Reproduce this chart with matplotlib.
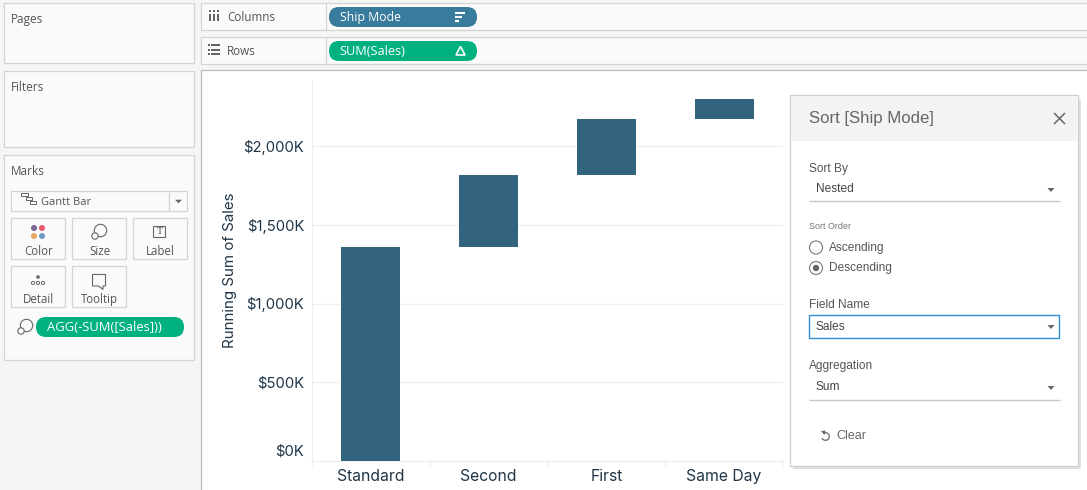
import numpy as np
import matplotlib
matplotlib.use("Agg")
import matplotlib.pyplot as plt
from matplotlib.patches import Rectangle, FancyBboxPatch, Circle, Polygon
from matplotlib.transforms import ScaledTranslation

# Sales by ship mode, in $K
ship_modes = ["Standard", "Second", "First", "Same Day"]
sales = [1358.2, 459.2, 351.4, 128.4]
y_ticks = [0, 500, 1000, 1500, 2000]
y_tick_labels = ["$0K", "$500K", "$1,000K", "$1,500K", "$2,000K"]

W, H = 1087, 490
BAR = "#33647e"
GREEN = "#00b180"
BLUE = "#387b9c"
BORDER = "#d4d4d4"
UI_TEXT = "#555555"
CHART_TEXT = "#1f3547"
CHART_FONT = "Inter"
UI_FONT = "Open Sans"
DLG_FONT = "Liberation Sans"

fig = plt.figure(figsize=(W / 100, H / 100), dpi=100, facecolor="#f5f5f5")

# pixel-space layer for the Tableau window around the chart
ui = fig.add_axes([0, 0, 1, 1], zorder=1)
ui.set_xlim(0, W)
ui.set_ylim(H, 0)
ui.axis("off")


def box(x0, y0, x1, y1, fc="#fafafa", ec=BORDER, lw=0.9, z=1):
    ui.add_patch(Rectangle((x0 - 0.5, y0 - 0.5), x1 - x0, y1 - y0, fc=fc, ec=ec, lw=lw, zorder=z))


def pill(x0, y0, x1, y1, color):
    r = (y1 - y0) / 2
    ui.add_patch(FancyBboxPatch((x0 + r, y0 + r), x1 - x0 - 2 * r, 0, boxstyle=f"round,pad={r}",
                                fc=color, ec="none", zorder=3))


def label(x, y, s, size=8.3, color=UI_TEXT, family=UI_FONT, ha="left", z=4):
    # va=center sits a touch high compared to the screenshot
    ui.text(x, y + 0.8, s, fontsize=size, color=color, family=family, ha=ha, va="center", zorder=z)


def line(xs, ys, color="#666666", lw=1.0, z=4):
    ui.plot(xs, ys, color=color, lw=lw, zorder=z, solid_capstyle="butt")


def size_icon(cx, cy):
    ui.add_patch(Circle((cx + 2, cy - 1.5), 6.2, fc="none", ec="#666666", lw=0.8, zorder=4))
    ui.add_patch(Circle((cx - 3.5, cy + 4), 3.2, fc="#fafafa", ec="#666666", lw=0.8, zorder=5))


def caret(cx, cy, w=4, h=3.5, color="#666666", z=6):
    ui.add_patch(Polygon([(cx - w, cy - h / 2), (cx + w, cy - h / 2), (cx, cy + h / 2)],
                         fc=color, ec="none", zorder=z))


# left side cards
box(4.5, 4, 194.5, 64)
box(4.5, 72, 194.5, 148)
box(4.5, 155.5, 194.5, 360.5)
label(11, 19, "Pages", 8.5)
label(11, 87, "Filters", 8.5)
label(11, 171, "Marks", 8.5)

# marks dropdown
box(11.5, 191.5, 187, 211)
line([169, 169], [192, 210.5], BORDER, 0.9)
caret(178.5, 201.5, 3.5, 3.5)
label(41, 201.5, "Gantt Bar", 8)
for x0, y0, x1 in [(21, 193.5, 28), (26, 197.5, 32), (30, 201.5, 36)]:
    box(x0, y0, x1, y0 + 2.5, fc="none", ec="#666666", lw=0.7, z=4)

cards = [(11.5, 218.5, "Color"), (72.5, 218.5, "Size"), (133.5, 218.5, "Label"),
         (11.5, 266.5, "Detail"), (72.5, 266.5, "Tooltip")]
for x0, y0, name in cards:
    box(x0, y0, x0 + 54, y0 + 41)
    label(x0 + 27, y0 + 32, name, 8.3, ha="center")

for cx, cy, c in [(34, 228, "#7b6593"), (42, 228, "#e8596b"), (34, 236, "#e8a860"), (42, 236, "#6d9bc3")]:
    ui.add_patch(Circle((cx, cy), 3, fc=c, ec="none", zorder=4))
size_icon(98.5, 232)
box(153.5, 226, 165.5, 237.5, fc="none", ec="#666666", lw=0.8, z=4)
label(159.5, 231, "T", 6.5, "#555555", family="DejaVu Serif", ha="center")
ui.add_patch(Circle((38, 277), 1.8, fc="#666666", ec="none", zorder=4))
for cx in [33, 38, 43]:
    ui.add_patch(Circle((cx, 283), 1.6, fc="none", ec="#666666", lw=0.7, zorder=4))
ui.add_patch(Polygon([(92.5, 274.5), (105.5, 274.5), (105.5, 286), (103, 286), (103, 289.5),
                      (98.5, 286), (92.5, 286)], fc="none", ec="#666666", lw=0.8, zorder=4))

size_icon(24.5, 327)
pill(36, 317, 184, 337, GREEN)
label(47, 326.5, "AGG(-SUM([Sales]))", 9.4, "white")

# shelves
box(201.5, 3.5, 1100, 30.5)
box(201.5, 37.5, 1100, 64.5)
line([326, 326], [3.5, 30], BORDER, 0.9)
line([326, 326], [37.5, 64], BORDER, 0.9)
for x in [209.5, 213.5, 217.5]:
    line([x, x], [14, 21.5], "#555555", 1.3)
    line([x, x], [10.5, 12.5], "#555555", 1.3)
for y in [45.5, 50, 54.5]:
    line([211, 220], [y, y], "#555555", 1.3)
    line([208, 210], [y, y], "#555555", 1.3)
label(227, 16.5, "Columns", 8.4)
label(227, 50.5, "Rows", 8.4)
pill(329, 7, 477, 27, BLUE)
label(339.5, 16.5, "Ship Mode", 8.8, "white")
for y, x1 in [(13, 465), (17, 462), (21, 458.5)]:
    line([455, x1], [y, y], "white", 1.5)
pill(329, 41, 477, 61, GREEN)
label(339.5, 50.5, "SUM(Sales)", 9.2, "white")
ui.add_patch(Polygon([(460.5, 46.5), (465, 55), (456, 55)], fc="none", ec="white", lw=1.2, zorder=4))

# sort dialog
ui.add_patch(Rectangle((793, 99), 288, 370, fc="#bdbdbd", ec="none", alpha=0.45, zorder=5))
box(790.5, 96, 1078, 466, fc="white", ec="#cfcfcf", lw=0.9, z=6)
box(791, 96.5, 1077.5, 141, fc="#f3f3f3", ec="none", lw=0, z=6)
label(809, 118, "Sort [Ship Mode]", 12.1, "#666666", DLG_FONT, z=7)
line([1054, 1065], [113, 124], "#666666", 1.1, z=7)
line([1054, 1065], [124, 113], "#666666", 1.1, z=7)

label(809, 168, "Sort By", 8.6, "#555555", DLG_FONT, z=7)
label(816, 188.5, "Nested", 8.6, "#444444", DLG_FONT, z=7)
line([809, 1060], [201, 201], "#c8c8c8", 1, z=7)
caret(1051, 190, 3.5, 4, z=7)

label(809, 225.5, "Sort Order", 6.5, "#777777", DLG_FONT, z=7)
ui.add_patch(Circle((816, 247.5), 6.5, fc="white", ec="#777777", lw=0.8, zorder=7))
ui.add_patch(Circle((816, 268), 6.5, fc="white", ec="#777777", lw=0.8, zorder=7))
ui.add_patch(Circle((816, 268), 3.2, fc="#666666", ec="none", zorder=8))
label(829, 247.5, "Ascending", 8.6, "#555555", DLG_FONT, z=7)
label(829, 267.5, "Descending", 8.6, "#555555", DLG_FONT, z=7)

label(809, 304.5, "Field Name", 8.6, "#555555", DLG_FONT, z=7)
box(809.5, 315.5, 1059.5, 338.5, fc="white", ec="#2d8fd5", lw=1, z=7)
label(816, 326, "Sales", 8.6, "#444444", DLG_FONT, z=8)
caret(1051, 327, 3.5, 4, z=8)

label(809, 365.5, "Aggregation", 8.6, "#555555", DLG_FONT, z=7)
label(816, 386.5, "Sum", 8.6, "#444444", DLG_FONT, z=7)
line([809, 1060], [399.5, 399.5], "#c8c8c8", 1, z=7)
caret(1051, 388, 3.5, 4, z=7)

label(836, 435.5, "Clear", 9, "#666666", DLG_FONT, z=7)
t = np.linspace(-2.1, 2.6, 30)
ui.plot(825.5 + 3.8 * np.cos(t), 436.5 + 3.8 * np.sin(t), color="#666666", lw=0.9, zorder=7)
ui.add_patch(Polygon([(821, 431), (825.5, 430.5), (824.5, 435)], fc="#666666", ec="none", zorder=7))

# white view pane, then the chart on top of it
view = fig.add_axes([201 / W, 0, 1 - 201 / W, 1 - 71 / H], zorder=0.5)
view.set_facecolor("white")
view.set_xticks([])
view.set_yticks([])
for s in view.spines.values():
    s.set_visible(False)
ui.plot([201, 201], [70.5, 490], color="#bdbdbd", lw=0.9, zorder=2)
ui.plot([201, 1087], [70.5, 70.5], color="#bdbdbd", lw=0.9, zorder=2)

px_per_k = 78.75 / 500
top_k = (461 - 80) / px_per_k
ax = fig.add_axes([312 / W, 1 - 461 / H, (783 - 312) / W, (461 - 80) / H], zorder=0.8)
ax.patch.set_alpha(0)
ax.set_xlim(-0.5, 3.5)
ax.set_ylim(0, top_k)

# gantt style waterfall: each bar starts where the last one ended
running = np.cumsum(sales)
starts = running - np.array(sales)
x = np.arange(len(ship_modes))
ax.bar(x, sales, bottom=starts, width=0.5, color=BAR, zorder=3)

ax.set_yticks(y_ticks)
ax.set_yticklabels(y_tick_labels, family=CHART_FONT, fontsize=10.7, color=CHART_TEXT)
ax.set_xticks(x)
ax.set_xticklabels(ship_modes, family=CHART_FONT, fontsize=11.3, color=CHART_TEXT)
ax.tick_params(axis="both", length=0)
ax.tick_params(axis="y", pad=5.5)
ax.tick_params(axis="x", pad=5.5)
ax.grid(axis="y", color="#f0f0f0", lw=1, zorder=0)
ax.set_axisbelow(True)
for s in ["top", "right"]:
    ax.spines[s].set_visible(False)
ax.spines["left"].set_color("#f0f0f0")
ax.spines["bottom"].set_color("#f0f0f0")
ax.set_ylabel("Running Sum of Sales", family=CHART_FONT, fontsize=10.9, color=CHART_TEXT, labelpad=4.5)

# Tableau pushes the bottom label up so it stays inside the pane
zero_label = ax.get_yticklabels()[0]
zero_label.set_transform(zero_label.get_transform() + ScaledTranslation(0, 11 / 100, fig.dpi_scale_trans))

# little separators under the axis between headers
for sep in np.arange(-0.5, 4):
    ax.plot([sep, sep], [0, -28], color="#f0f0f0", lw=1, clip_on=False, zorder=1)

fig.savefig("out.png", dpi=100, facecolor=fig.get_facecolor())
